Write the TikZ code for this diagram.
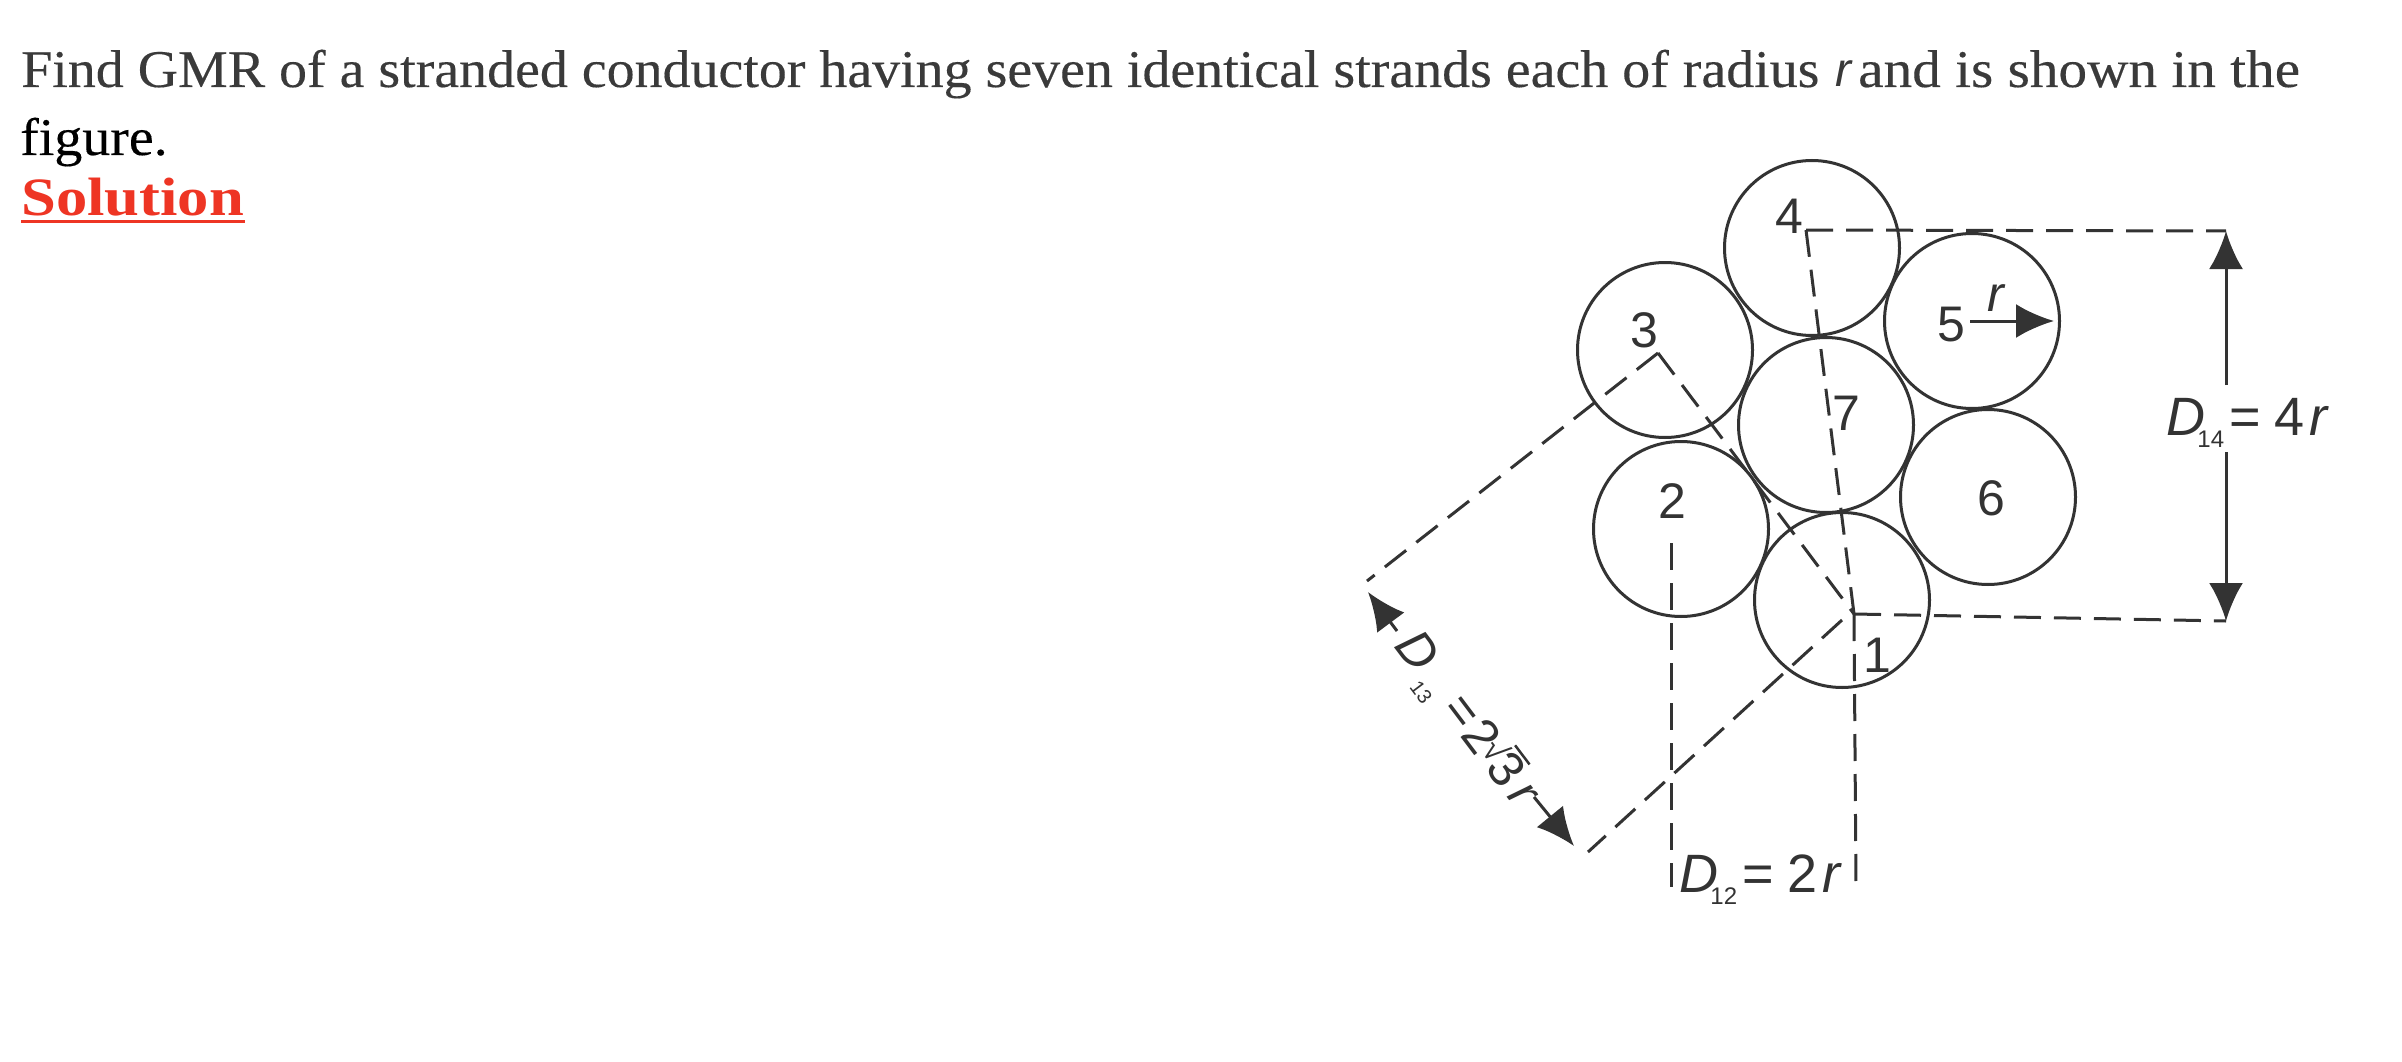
\documentclass[tikz,border=0pt]{standalone}
\usepackage{fontspec}
\usetikzlibrary{arrows.meta}
\setmainfont{Liberation Sans}
\newfontfamily\ser[FakeStretch=1.055,FakeBold=0.25]{Liberation Serif}
\newfontfamily\sert[FakeStretch=1.08,FakeBold=0.25]{Liberation Serif}
\newfontfamily\serb[FakeStretch=1.16]{Liberation Serif Bold}
\newcommand{\fsz}[1]{\fontsize{#1}{#1}\selectfont}
\definecolor{ink}{HTML}{333333}
\definecolor{txtgrey}{HTML}{3A3A3A}
\definecolor{solred}{HTML}{EE3524}
\tikzset{
  strand/.style={circle,draw=ink,line width=3pt,minimum size=175pt,inner sep=0pt},
  num/.style={text=ink,inner sep=0pt,font=\fsz{50}},
  dim/.style={text=ink,inner sep=0pt,font=\fsz{54}},
  dashline/.style={draw=ink,line width=3pt,dash pattern=on 27pt off 13pt},
  arr/.style={draw=ink,line width=3pt,-{Latex[length=38pt,width=34pt]}},
  para/.style={inner sep=0pt,anchor=base west,font=\ser\fsz{53}},
}
\begin{document}
\begin{tikzpicture}[x=1pt,y=1pt]
\useasboundingbox[fill=white] (0,0) rectangle (2402,-1062);
% text
\node[para,text=txtgrey] (t1) at (21,-87) {Find GMR of a stranded conductor having seven identical strands each of radius};
\node[para,text=txtgrey,font=\fsz{48}\itshape] (t2) at (1835,-87) {r};
\node[para,text=txtgrey,font=\sert\fsz{53}] (t3) at (1858,-87) {and is shown in the};
\node[para,text=black] (t4) at (20,-155) {figure.};
\node[para,text=solred,font=\serb\fsz{54}] (t5) at (21,-215) {Solution};
\draw[solred,line width=3pt] (t5.base west)++(0,-6) -- ++(224,0);
% strands
\node[strand] (c1) at (1842,-600) {};
\node[strand] (c2) at (1681,-529) {};
\node[strand] (c3) at (1665,-350) {};
\node[strand] (c4) at (1812,-248) {};
\node[strand] (c5) at (1972,-321) {};
\node[strand] (c6) at (1988,-497) {};
\node[strand] (c7) at (1826,-425) {};
% numbers
\node[num] (n1) at (1877,-655) {1};
\node[num] (n2) at (1672,-501) {2};
\node[num] (n3) at (1644,-330) {3};
\node[num] (n4) at (1789,-216) {4};
\node[num] (n5) at (1951,-325) {5};
\node[num] (n6) at (1991,-498) {6};
\node[num] (n7) at (1846,-413) {7};
\node[num,font=\fsz{50}\itshape] (nr) at (1996,-298) {r};
% dimension points
\coordinate (p4) at (1806,-230);
\coordinate (p1) at (1854,-614);
\coordinate (p3) at (1658,-353);
\coordinate (q4) at (2226,-231);
\coordinate (q1) at (2226,-621);
\coordinate (pl) at (1367,-581);
\coordinate (pb) at (1588,-852);
\coordinate (p1b) at (1842,-620);
\coordinate (s2) at (1671,-543);
\coordinate (e2) at (1671,-887);
\coordinate (e1) at (1856,-887);
\coordinate (a5) at (1970,-321);
\coordinate (b5) at (2054,-321);
\coordinate (t13) at (1368,-592);
\coordinate (g13a) at (1397,-631);
\coordinate (g13b) at (1534,-797);
\coordinate (b13) at (1574,-846);
\coordinate (g1) at (2226,-385);
\coordinate (g2) at (2226,-452);
% dashed
\draw[dashline] (p4) -- (q4);
\draw[dashline] (p1) -- (q1);
\draw[dashline] (p4) -- (p1);
\draw[dashline] (p1) -- (e1);
\draw[dashline] (s2) -- (e2);
\draw[dashline] (p3) -- (p1);
\draw[dashline] (p3) -- (pl);
\draw[dashline] (p1b) -- (pb);
% arrows
\node[dim] (d14) at (2248,-423) {\textit{D}\hspace{-8pt}\raisebox{-12pt}{\fsz{24}14}\hspace{5pt}=\hspace{14pt}4\hspace{5pt}\textit{r}};
\draw[arr] (g1) -- (q4);
\draw[arr] (g2) -- (q1);
\draw[arr] (a5) -- (b5);
\draw[arr] (g13a) -- (t13);
\draw[arr] (g13b) -- (b13);
\node[dim] (d12) at (1761,-880) {\textit{D}\hspace{-8pt}\raisebox{-12pt}{\fsz{24}12}\hspace{5pt}=\hspace{14pt}2\hspace{5pt}\textit{r}};
\node[dim,rotate=-53,font=\fsz{50}] (d13) at (1466,-721) {\textit{D}\hspace{6pt}\raisebox{-12pt}{\fsz{20}13}\hspace{14pt}=\hspace{3pt}2\hspace{-3pt}\raisebox{8pt}{\fsz{34}√}\hspace{-2pt}\rlap{\raisebox{37pt}{\rule{24pt}{2.5pt}}}3\hspace{8pt}\textit{r}};
\end{tikzpicture}
\end{document}
